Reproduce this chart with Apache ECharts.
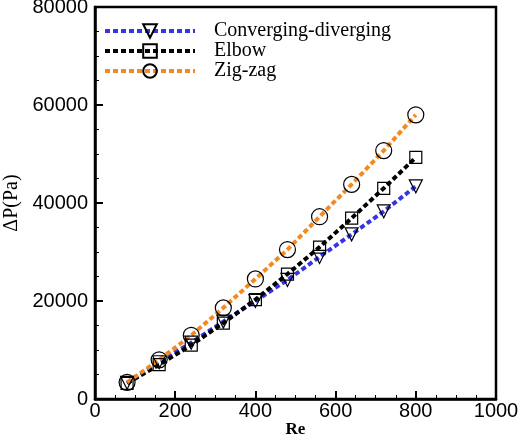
<!DOCTYPE html>
<html><head><meta charset="utf-8">
<script src="https://cdn.jsdelivr.net/npm/echarts@6/dist/echarts.min.js"></script>
<style>html,body{margin:0;padding:0;background:#fff}#c{width:520px;height:435px}</style>
</head><body><div id="c"></div>
<script>
const re = [80,160,240,320,400,480,560,640,720,800];
const convDiv = [3300,7500,11500,15800,20000,24300,29000,33600,38300,43400];
const elbow = [3200,7000,11000,15500,20300,25500,31000,36900,43000,49300];
const zigzag = [3400,8000,13000,18600,24500,30500,37200,43800,50700,58000];
const names = ['Converging-diverging','Elbow','Zig-zag'];
const xTicks = [0,200,400,600,800,1000];
const yTicks = [0,20000,40000,60000,80000];

function pairs(v){return re.map((x,i)=>[x,v[i]]);}
function mk(name,data,color,symbol,rotate,size){
  return {name, type:'line', data:pairs(data), symbol, symbolSize:size, symbolRotate:rotate,
    lineStyle:{color, width:4, type:[5,3]},
    itemStyle:{color:'rgba(0,0,0,0)', borderColor:'#000', borderWidth:1.2},
    z: 2};
}
const chart = echarts.init(document.getElementById('c'));
chart.setOption({
  animation:false,
  grid:{left:95,right:24,top:7,bottom:36,outerBoundsMode:'none',containLabel:false,
    show:true,borderColor:'#000',borderWidth:2.5},
  legend:{orient:'vertical',left:98,top:16,itemWidth:90,itemHeight:17,itemGap:0,
    lineStyle:{width:4},
    textStyle:{fontFamily:'Liberation Serif',fontSize:20,lineHeight:20,color:'#000',padding:[0,0,0,14]},
    data:names},
  xAxis:{type:'value',min:xTicks[0],max:xTicks[xTicks.length-1],interval:200,
    name:'Re',nameLocation:'middle',nameGap:22,nameMoveOverlap:false,
    nameTextStyle:{fontFamily:'Liberation Serif',fontSize:17,fontWeight:'bold',color:'#000'},
    axisLine:{lineStyle:{color:'#000',width:2.5}},
    axisTick:{inside:true,length:8,lineStyle:{color:'#000',width:2}},
    minorTick:{show:true,splitNumber:4,length:4,lineStyle:{color:'#000',width:1}},
    axisLabel:{fontFamily:'Liberation Sans',fontSize:20,color:'#000',margin:2,
      formatter:v=>String(v)},
    splitLine:{show:false}},
  yAxis:{type:'value',min:yTicks[0],max:yTicks[yTicks.length-1],interval:20000,
    name:'\u0394P(Pa)',nameLocation:'middle',nameGap:73,nameMoveOverlap:false,
    nameTextStyle:{fontFamily:'Liberation Serif',fontSize:20,color:'#000'},
    axisLine:{lineStyle:{color:'#000',width:2.5}},
    axisTick:{inside:true,length:8,lineStyle:{color:'#000',width:2}},
    minorTick:{show:true,splitNumber:4,length:4,lineStyle:{color:'#000',width:1}},
    axisLabel:{fontFamily:'Liberation Sans',fontSize:20,color:'#000',margin:7,
      formatter:v=>String(v)},
    splitLine:{show:false}},
  series:[
    mk(names[0],convDiv,'#3535e6','triangle',180,13),
    mk(names[1],elbow,'#000','rect',0,12),
    mk(names[2],zigzag,'#f5891f','circle',0,16)
  ]
});
</script></body></html>
